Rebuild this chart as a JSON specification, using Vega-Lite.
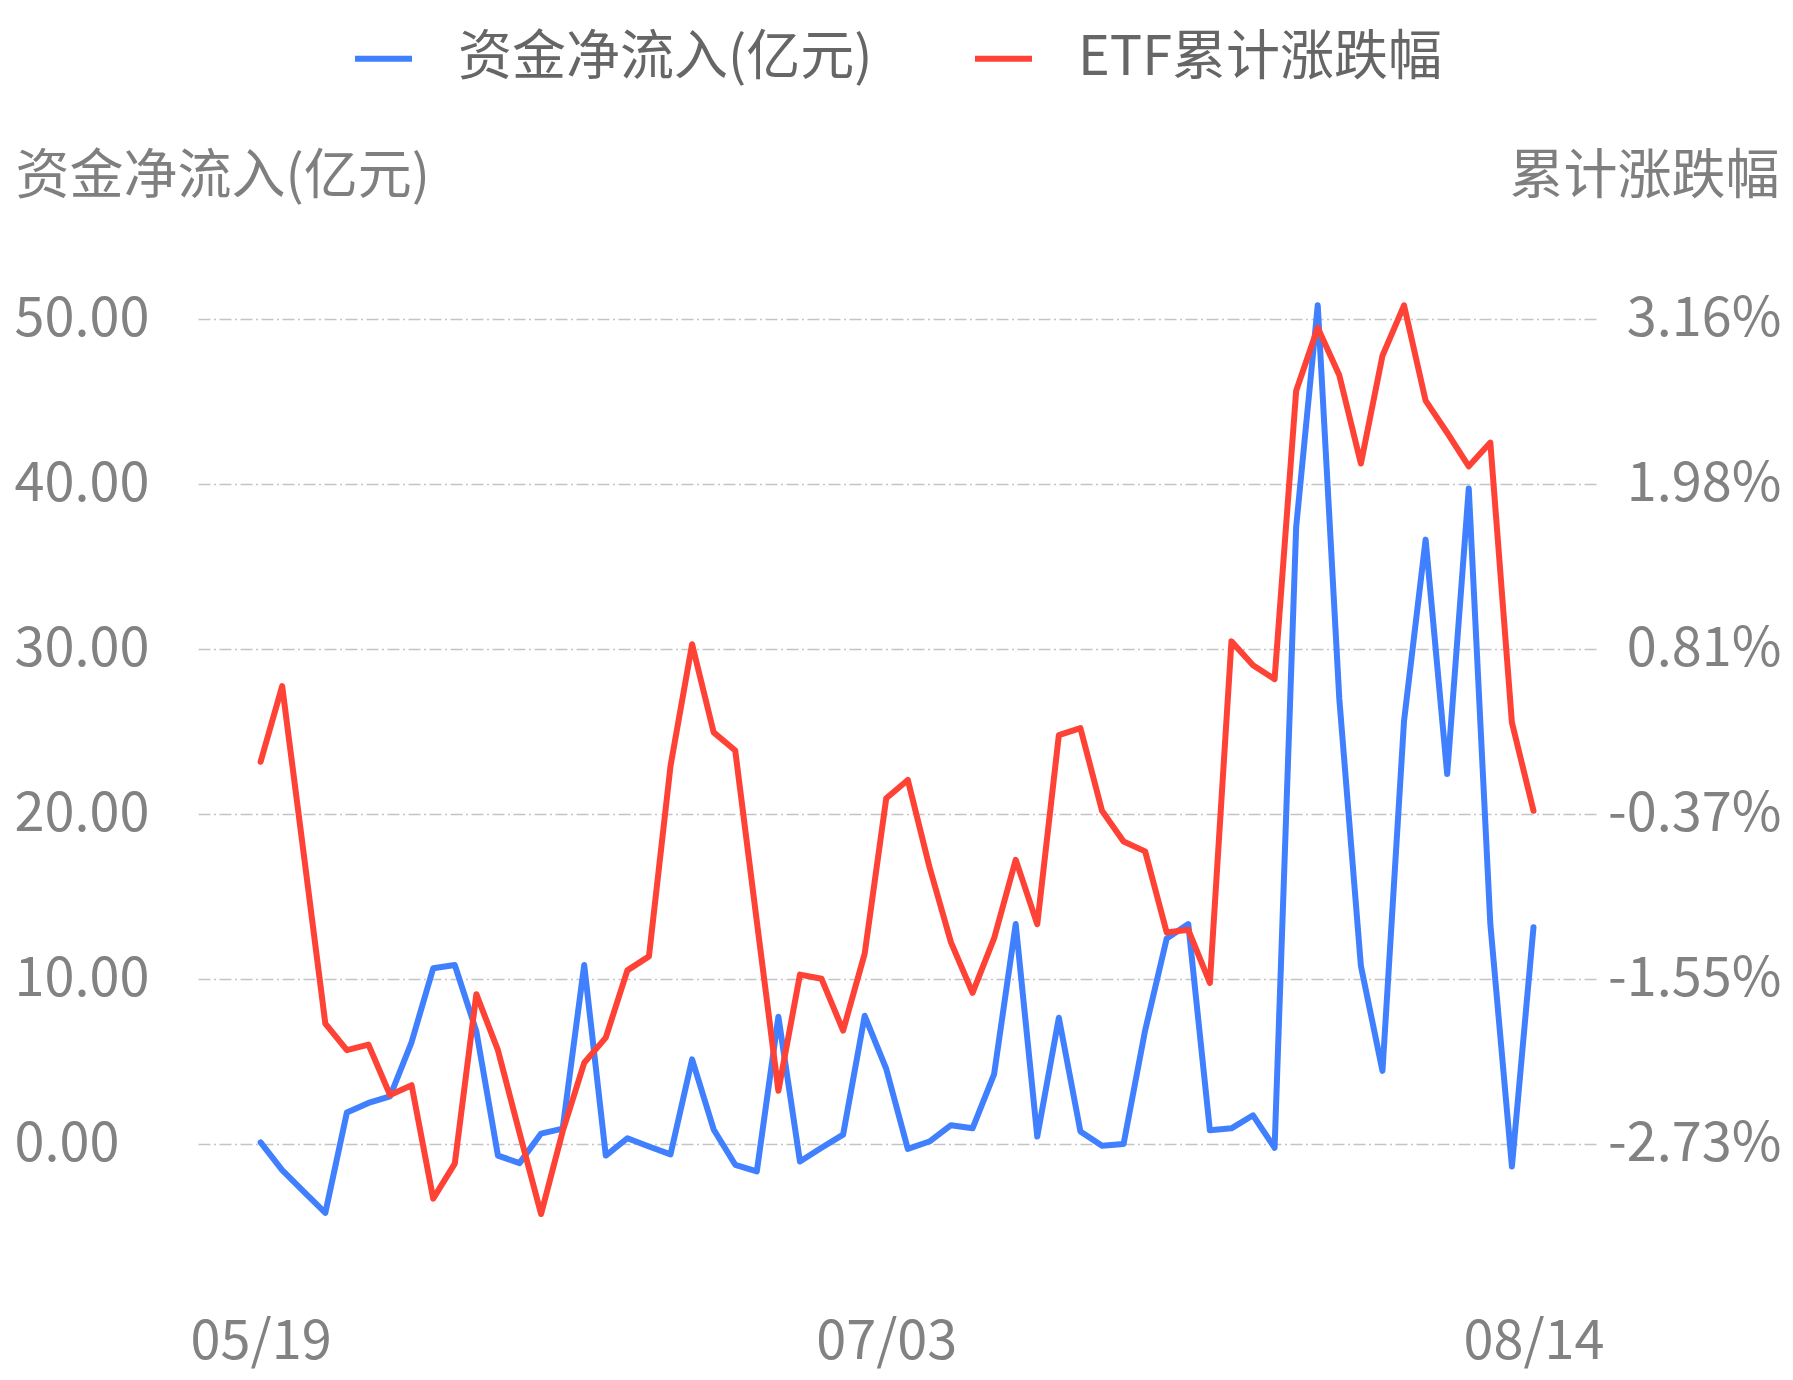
{
  "$schema": "https://vega.github.io/schema/vega-lite/v6.json",
  "autosize": {"type": "none"},
  "padding": {"left": 198, "top": 319, "right": 196, "bottom": 71},
  "width": 1399,
  "height": 990,
  "background": "white",
  "config": {
    "view": {"stroke": null},
    "font": "Noto Sans CJK SC"
  },
  "data": {
    "values": [
      {"i": 0, "date": "05/19", "flow": 0.10, "pct": 0.00},
      {"i": 1, "date": "05/20", "flow": -1.58, "pct": 0.54},
      {"i": 2, "date": "05/21", "flow": -2.89, "pct": -0.66},
      {"i": 3, "date": "05/22", "flow": -4.17, "pct": -1.87},
      {"i": 4, "date": "05/23", "flow": 1.91, "pct": -2.06},
      {"i": 5, "date": "05/26", "flow": 2.49, "pct": -2.02},
      {"i": 6, "date": "05/27", "flow": 2.89, "pct": -2.38},
      {"i": 7, "date": "05/28", "flow": 6.18, "pct": -2.31},
      {"i": 8, "date": "05/29", "flow": 10.65, "pct": -3.12},
      {"i": 9, "date": "05/30", "flow": 10.85, "pct": -2.87},
      {"i": 10, "date": "06/03", "flow": 6.83, "pct": -1.66},
      {"i": 11, "date": "06/04", "flow": -0.70, "pct": -2.06},
      {"i": 12, "date": "06/05", "flow": -1.16, "pct": -2.65},
      {"i": 13, "date": "06/09", "flow": 0.63, "pct": -3.23},
      {"i": 14, "date": "06/10", "flow": 0.93, "pct": -2.64},
      {"i": 15, "date": "06/11", "flow": 10.85, "pct": -2.15},
      {"i": 16, "date": "06/12", "flow": -0.70, "pct": -1.97},
      {"i": 17, "date": "06/16", "flow": 0.35, "pct": -1.49},
      {"i": 18, "date": "06/17", "flow": -0.15, "pct": -1.39},
      {"i": 19, "date": "06/18", "flow": -0.63, "pct": -0.03},
      {"i": 20, "date": "06/19", "flow": 5.13, "pct": 0.84},
      {"i": 21, "date": "06/23", "flow": 0.88, "pct": 0.21},
      {"i": 22, "date": "06/24", "flow": -1.26, "pct": 0.08},
      {"i": 23, "date": "06/25", "flow": -1.66, "pct": -1.14},
      {"i": 24, "date": "06/26", "flow": 7.71, "pct": -2.35},
      {"i": 25, "date": "06/27", "flow": -1.06, "pct": -1.52},
      {"i": 26, "date": "06/30", "flow": -0.23, "pct": -1.55},
      {"i": 27, "date": "07/01", "flow": 0.57, "pct": -1.92},
      {"i": 28, "date": "07/02", "flow": 7.77, "pct": -1.37},
      {"i": 29, "date": "07/03", "flow": 4.55, "pct": -0.26},
      {"i": 30, "date": "07/04", "flow": -0.30, "pct": -0.13},
      {"i": 31, "date": "07/07", "flow": 0.15, "pct": -0.75},
      {"i": 32, "date": "07/08", "flow": 1.14, "pct": -1.29},
      {"i": 33, "date": "07/09", "flow": 0.95, "pct": -1.65},
      {"i": 34, "date": "07/10", "flow": 4.24, "pct": -1.26},
      {"i": 35, "date": "07/11", "flow": 13.33, "pct": -0.70},
      {"i": 36, "date": "07/14", "flow": 0.45, "pct": -1.16},
      {"i": 37, "date": "07/15", "flow": 7.65, "pct": 0.19},
      {"i": 38, "date": "07/16", "flow": 0.76, "pct": 0.24},
      {"i": 39, "date": "07/17", "flow": -0.11, "pct": -0.35},
      {"i": 40, "date": "07/18", "flow": 0.00, "pct": -0.57},
      {"i": 41, "date": "07/21", "flow": 6.89, "pct": -0.64},
      {"i": 42, "date": "07/22", "flow": 12.46, "pct": -1.22},
      {"i": 43, "date": "07/23", "flow": 13.33, "pct": -1.20},
      {"i": 44, "date": "07/24", "flow": 0.83, "pct": -1.58},
      {"i": 45, "date": "07/25", "flow": 0.95, "pct": 0.86},
      {"i": 46, "date": "07/28", "flow": 1.74, "pct": 0.69},
      {"i": 47, "date": "07/29", "flow": -0.23, "pct": 0.59},
      {"i": 48, "date": "07/30", "flow": 37.39, "pct": 2.65},
      {"i": 49, "date": "07/31", "flow": 50.83, "pct": 3.10},
      {"i": 50, "date": "08/01", "flow": 26.97, "pct": 2.76},
      {"i": 51, "date": "08/04", "flow": 10.80, "pct": 2.13},
      {"i": 52, "date": "08/05", "flow": 4.43, "pct": 2.90},
      {"i": 53, "date": "08/06", "flow": 25.64, "pct": 3.26},
      {"i": 54, "date": "08/07", "flow": 36.63, "pct": 2.58},
      {"i": 55, "date": "08/08", "flow": 22.42, "pct": 2.35},
      {"i": 56, "date": "08/11", "flow": 39.73, "pct": 2.11},
      {"i": 57, "date": "08/12", "flow": 13.33, "pct": 2.28},
      {"i": 58, "date": "08/13", "flow": -1.36, "pct": 0.28},
      {"i": 59, "date": "08/14", "flow": 13.14, "pct": -0.35}
    ]
  },
  "encoding": {
    "x": {
      "field": "i",
      "type": "quantitative",
      "scale": {"domain": [-2.902, 61.944], "nice": false, "zero": false},
      "axis": {
        "values": [0, 29, 59],
        "labelExpr": "datum.value === 0 ? '05/19' : datum.value === 29 ? '07/03' : '08/14'",
        "title": null,
        "domain": false,
        "ticks": false,
        "grid": false,
        "labelAngle": 0,
        "labelFontSize": 54,
        "labelColor": "#828282",
        "labelPadding": 6,
        "labelFlush": false,
        "labelOverlap": false,
        "labelFont": "Noto Sans CJK SC"
      }
    },
    "tooltip": [
      {"field": "date", "type": "nominal"},
      {"field": "flow", "type": "quantitative"},
      {"field": "pct", "type": "quantitative"}
    ]
  },
  "layer": [
    {
      "mark": {"type": "line", "strokeWidth": 6, "strokeJoin": "round", "strokeCap": "round"},
      "encoding": {
        "y": {
          "field": "flow",
          "type": "quantitative",
          "scale": {"domain": [-10, 50], "nice": false, "zero": false},
          "axis": {
            "values": [0, 10, 20, 30, 40, 50],
            "format": ".2f",
            "orient": "left",
            "title": "资金净流入(亿元)",
            "titleAngle": 0,
            "titleX": -183,
            "titleY": -142,
            "titleAlign": "left",
            "titleBaseline": "middle",
            "titleFontSize": 54,
            "titleFontWeight": "normal",
            "titleColor": "#7f7f7f",
            "titleFont": "Noto Sans CJK SC",
            "domain": false,
            "ticks": false,
            "labelAlign": "left",
            "labelPadding": 184,
            "labelFontSize": 54,
            "labelColor": "#828282",
            "labelFont": "Noto Sans CJK SC",
            "grid": true,
            "gridColor": "#c4c4c4",
            "gridWidth": 1.5,
            "gridDash": [12, 3.5, 2, 3.5]
          }
        },
        "color": {
          "datum": "资金净流入(亿元)",
          "scale": {"domain": ["资金净流入(亿元)", "ETF累计涨跌幅"], "range": ["#4080FF", "#FF4236"]},
          "legend": {
            "title": null,
            "orient": "none",
            "direction": "horizontal",
            "legendX": 154,
            "legendY": -292,
            "symbolType": "stroke",
            "symbolSize": 3249,
            "symbolStrokeWidth": 6,
            "labelFontSize": 54,
            "labelColor": "#666666",
            "labelFont": "Noto Sans CJK SC",
            "labelOffset": 43,
            "labelLimit": 1000,
            "columnPadding": 90
          }
        }
      }
    },
    {
      "mark": {"type": "line", "strokeWidth": 6, "strokeJoin": "round", "strokeCap": "round"},
      "encoding": {
        "y": {
          "field": "pct",
          "type": "quantitative",
          "scale": {"domain": [-3.9085, 3.1625], "nice": false, "zero": false},
          "axis": {
            "values": [-2.73, -1.5515, -0.373, 0.8055, 1.984, 3.1625],
            "labelExpr": "replace(format(datum.value, '.2f'), '\u2212', '-') + '%'",
            "orient": "right",
            "title": "累计涨跌幅",
            "titleAngle": 0,
            "titleX": 182,
            "titleY": -142,
            "titleAlign": "right",
            "titleBaseline": "middle",
            "titleFontSize": 54,
            "titleFontWeight": "normal",
            "titleColor": "#7f7f7f",
            "titleFont": "Noto Sans CJK SC",
            "domain": false,
            "ticks": false,
            "grid": false,
            "labelAlign": "right",
            "labelPadding": 184,
            "labelFontSize": 54,
            "labelColor": "#828282",
            "labelFont": "Noto Sans CJK SC"
          }
        },
        "color": {"datum": "ETF累计涨跌幅"}
      }
    }
  ],
  "resolve": {"scale": {"y": "independent"}}
}
